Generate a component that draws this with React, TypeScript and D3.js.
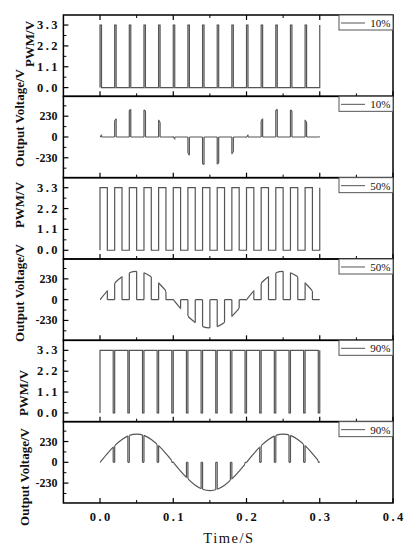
import * as d3 from 'd3';

// PWM carrier: one pulse every 20 ms, data ends at 0.3 s
const PULSE_STARTS = [0, 0.02, 0.04, 0.06, 0.08, 0.1, 0.12, 0.14, 0.16, 0.18, 0.2, 0.22, 0.24, 0.26, 0.28, 0.3];
const PERIOD = 0.02;
const T_END = 0.3;
const PWM_HIGH = 3.3;
const DUTIES = [0.1, 0.5, 0.9];
const DUTY_LABELS = ['10%', '50%', '90%'];

// envelope of the output voltage
const ENV_TIMES = [0, 0.01, 0.02, 0.03, 0.04, 0.05, 0.06, 0.07, 0.08, 0.09, 0.1,
  0.11, 0.12, 0.13, 0.14, 0.15, 0.16, 0.17, 0.18, 0.19, 0.2,
  0.21, 0.22, 0.23, 0.24, 0.25, 0.26, 0.27, 0.28, 0.29, 0.3];
const ENV_VALUES = [0, 97, 184, 253, 298, 313, 298, 253, 184, 97, 0,
  -97, -184, -253, -298, -313, -298, -253, -184, -97, 0,
  97, 184, 253, 298, 313, 298, 253, 184, 97, 0];

const X_TICKS = [0, 0.1, 0.2, 0.3, 0.4];
const X_TICK_LABELS = ['0.0', '0.1', '0.2', '0.3', '0.4'];
const X_MINOR = [0.05, 0.15, 0.25, 0.35];
const PWM_TICKS = [0, 1.1, 2.2, 3.3];
const PWM_TICK_LABELS = ['0.0', '1.1', '2.2', '3.3'];
const PWM_MINOR = [0.55, 1.65, 2.75];
const V_TICKS = [-230, 0, 230];
const V_TICK_LABELS = ['-230', '0', '230'];
const V_MINOR = [-345, -115, 115, 345];

const W = 413;
const H = 550;
const LEFT = 63.4;
const RIGHT = 393;
const TOP = 15;
const PANEL_H = 81.33;
const LINE = '#555';
const LW = 1.2;
const SPACED = 2.4; // the source font sets "3. 3" with a wide dot

// y-label positions per panel (Origin placed them a bit unevenly)
const LABEL_POS = [
  { x: 29, cy: 44 }, { x: 19, cy: 118 },
  { x: 19, cy: 205 }, { x: 19, cy: 293 },
  { x: 23, cy: 393 }, { x: 24, cy: 477 },
];

const x = d3.scaleLinear().domain([-0.05, 0.4]).range([LEFT, RIGHT]);

type Pt = [number, number];

const decFont = 'bold 12.5px "Liberation Serif", serif';
const vFont = 'bold 12px "Liberation Serif", serif';

function Frame({ top, bottom, yScale, ticks, labels, minor, spaced, first }: any) {
  return (
    <g>
      <rect x={LEFT} y={top} width={RIGHT - LEFT} height={bottom - top} fill="none" stroke="#000" strokeWidth={1.5} />
      {ticks.map((t: number, i: number) => (
        <g key={'y' + t}>
          <line x1={LEFT} x2={LEFT + 5} y1={yScale(t)} y2={yScale(t)} stroke="#000" strokeWidth={1.2} />
          <text x={spaced ? 57.5 + SPACED : 57.5} y={yScale(t)} dominantBaseline="central" textAnchor="end"
            style={{ font: spaced ? decFont : vFont, fill: '#111', letterSpacing: spaced ? SPACED : 0 }}>{labels[i]}</text>
        </g>
      ))}
      {minor.map((t: number) => (
        <line key={'ym' + t} x1={LEFT} x2={LEFT + 3} y1={yScale(t)} y2={yScale(t)} stroke="#000" strokeWidth={1} />
      ))}
      {X_TICKS.map(t => (
        <line key={'xb' + t} x1={x(t)} x2={x(t)} y1={bottom} y2={bottom - 5} stroke="#000" strokeWidth={1.2} />
      ))}
      {X_MINOR.map(t => (
        <line key={'xbm' + t} x1={x(t)} x2={x(t)} y1={bottom} y2={bottom - 3} stroke="#000" strokeWidth={1} />
      ))}
      {first && X_TICKS.map(t => (
        <line key={'xt' + t} x1={x(t)} x2={x(t)} y1={top} y2={top + 5} stroke="#000" strokeWidth={1.2} />
      ))}
      {first && X_MINOR.map(t => (
        <line key={'xtm' + t} x1={x(t)} x2={x(t)} y1={top} y2={top + 3} stroke="#000" strokeWidth={1} />
      ))}
    </g>
  );
}

function Legend({ top, label }: { top: number; label: string }) {
  const x0 = 339;
  return (
    <g>
      <rect x={x0} y={top} width={RIGHT - x0} height={15} fill="#fff" stroke={LINE} strokeWidth={1} />
      <line x1={x0 + 2} x2={x0 + 26} y1={top + 8} y2={top + 8} stroke={LINE} strokeWidth={1} />
      <text x={RIGHT - 2.5} y={top + 12} textAnchor="end"
        style={{ font: '11px "Liberation Serif", serif', fill: '#111' }}>{label}</text>
    </g>
  );
}

export default function App() {
  const envPts: Pt[] = ENV_TIMES.map((t, i) => [t, ENV_VALUES[i]]);

  const panels = DUTIES.flatMap((duty, k) => {
    const pwmTop = TOP + PANEL_H * (2 * k);
    const outTop = TOP + PANEL_H * (2 * k + 1);
    const pwmBottom = pwmTop + PANEL_H;
    const outBottom = outTop + PANEL_H;

    const yP = d3.scaleLinear().domain([-0.46, 3.83]).range([pwmBottom, pwmTop]);
    const yV = d3.scaleLinear().domain([-450, 450]).range([outBottom, outTop]);

    const pulses = PULSE_STARTS.map(s => [s, Math.min(s + duty * PERIOD, T_END)] as Pt);
    const gaps = pulses
      .filter(([, e]) => e < T_END)
      .map(([s, e]) => [e, Math.min(s + PERIOD, T_END)] as Pt);

    const pwmPts: Pt[] = pulses.flatMap(([s, e]) => [[s, 0], [s, PWM_HIGH], [e, PWM_HIGH], [e, 0]] as Pt[]);
    const pwmLine = d3.line<Pt>().x(d => x(d[0])).y(d => yP(d[1]));

    const envLine = d3.line<Pt>().x(d => x(d[0])).y(d => yV(d[1])).curve(d3.curveNatural);
    const envArea = d3.area<Pt>().x(d => x(d[0])).y0(yV(0)).y1(d => yV(d[1])).curve(d3.curveNatural);
    const edges = pulses.flatMap(([s, e]) => [s, e]);

    const id = 'p' + k;
    return [
      <g key={'pwm' + k}>
        <path d={pwmLine(pwmPts) || ''} fill="none" stroke={LINE} strokeWidth={LW} />
        <Frame top={pwmTop} bottom={pwmBottom} yScale={yP} ticks={PWM_TICKS} labels={PWM_TICK_LABELS}
          minor={PWM_MINOR} spaced first={k === 0} />
        <Legend top={pwmTop} label={DUTY_LABELS[k]} />
      </g>,
      <g key={'out' + k}>
        <defs>
          <clipPath id={id + 'on'}>
            {pulses.map(([s, e], i) => (
              <rect key={i} x={x(s)} y={outTop} width={Math.max(x(e) - x(s), 0.01)} height={PANEL_H} />
            ))}
          </clipPath>
          <clipPath id={id + 'off'}>
            {gaps.map(([s, e], i) => (
              <rect key={i} x={x(s)} y={outTop} width={x(e) - x(s)} height={PANEL_H} />
            ))}
          </clipPath>
          <clipPath id={id + 'area'}>
            <path d={envArea(envPts) || ''} />
          </clipPath>
        </defs>
        <path d={envLine(envPts) || ''} fill="none" stroke={LINE} strokeWidth={LW} clipPath={`url(#${id}on)`} />
        <line x1={x(0)} x2={x(T_END)} y1={yV(0)} y2={yV(0)} stroke={LINE} strokeWidth={LW} clipPath={`url(#${id}off)`} />
        <g clipPath={`url(#${id}area)`}>
          {edges.map((t, i) => (
            <line key={i} x1={x(t)} x2={x(t)} y1={yV(-450)} y2={yV(450)} stroke={LINE} strokeWidth={LW} />
          ))}
        </g>
        <Frame top={outTop} bottom={outBottom} yScale={yV} ticks={V_TICKS} labels={V_TICK_LABELS}
          minor={V_MINOR} spaced={false} first={false} />
        <Legend top={outTop} label={DUTY_LABELS[k]} />
      </g>,
    ];
  });

  const lastBottom = TOP + PANEL_H * 6;

  return (
    <svg width={W} height={H} style={{ position: 'absolute', left: 0, top: 0, background: '#fff' }}>
      {panels}
      {LABEL_POS.map((p, i) => (
        <text key={i} transform={`translate(${p.x},${p.cy}) rotate(-90)`} textAnchor="middle"
          dominantBaseline="central" style={{ font: 'bold 13px "Liberation Serif", serif', fill: '#111' }}>
          {i % 2 === 0 ? 'PWM/V' : 'Output Voltage/V'}
        </text>
      ))}
      {X_TICKS.map((t, i) => (
        <text key={t} x={x(t) + SPACED / 2} y={lastBottom + 14} textAnchor="middle" dominantBaseline="central"
          style={{ font: decFont, fill: '#111', letterSpacing: SPACED }}>{X_TICK_LABELS[i]}</text>
      ))}
      <text x={(LEFT + RIGHT) / 2 + 0.75} y={lastBottom + 35} textAnchor="middle" dominantBaseline="central"
        style={{ font: '14.5px "Liberation Serif", serif', fill: '#111', letterSpacing: 1.5 }}>Time/S</text>
    </svg>
  );
}
